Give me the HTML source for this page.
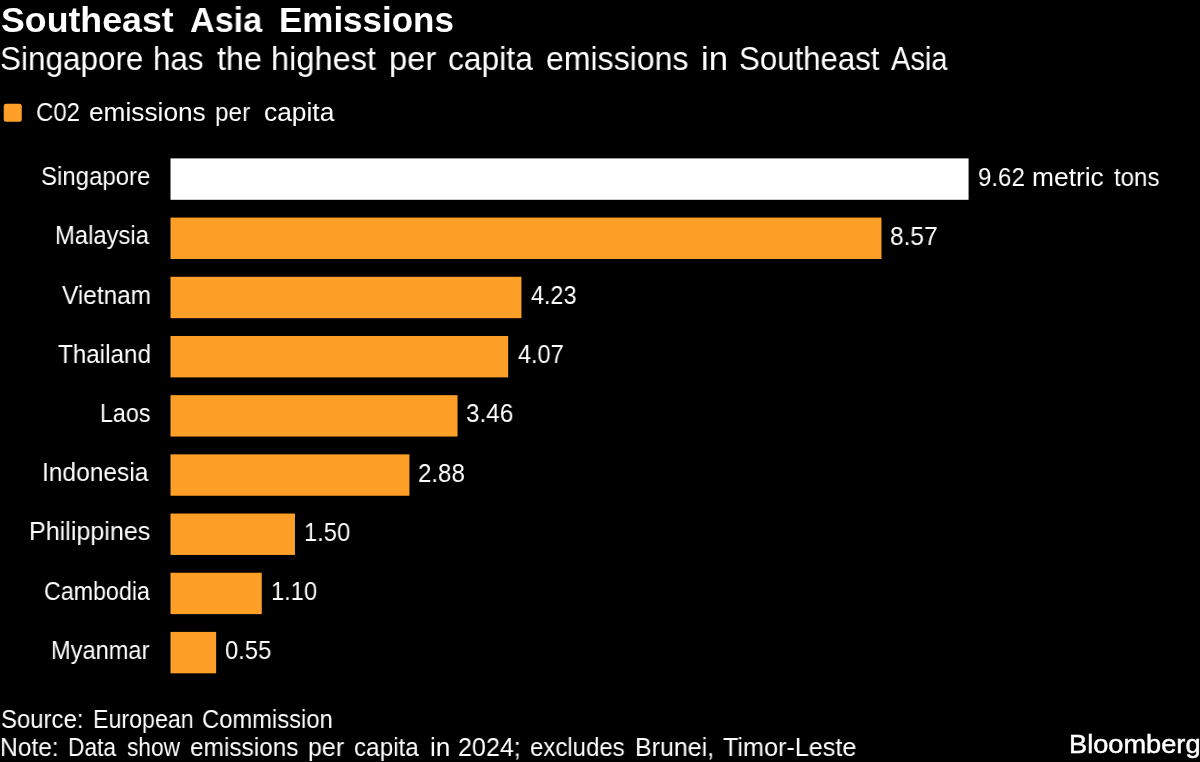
<!DOCTYPE html>
<html><head><meta charset="utf-8">
<style>
html,body{margin:0;padding:0;background:#000;}
body{width:1200px;height:762px;position:relative;overflow:hidden;font-family:"Liberation Sans",sans-serif;color:#fff;}
.t{position:absolute;white-space:nowrap;line-height:1;transform-origin:0 0;will-change:transform;}
.bar{position:absolute;}
</style></head><body>
<svg width="1200" height="762" style="position:absolute;left:0;top:0">
<rect x="170.5" y="158.40" width="798.08" height="41.4" fill="#ffffff"/>
<rect x="170.5" y="217.59" width="710.97" height="41.4" fill="#fea028"/>
<rect x="170.5" y="276.78" width="350.92" height="41.4" fill="#fea028"/>
<rect x="170.5" y="335.97" width="337.65" height="41.4" fill="#fea028"/>
<rect x="170.5" y="395.16" width="287.04" height="41.4" fill="#fea028"/>
<rect x="170.5" y="454.35" width="238.92" height="41.4" fill="#fea028"/>
<rect x="170.5" y="513.54" width="124.44" height="41.4" fill="#fea028"/>
<rect x="170.5" y="572.73" width="91.26" height="41.4" fill="#fea028"/>
<rect x="170.5" y="631.92" width="45.63" height="41.4" fill="#fea028"/>
<rect x="3.75" y="103.75" width="18" height="18" rx="2.5" fill="#fea028"/>
</svg>
<div class="t" style="left:1.06px;top:2.79px;font-size:34.5px;font-weight:bold;transform:scaleX(1.0355);">Southeast</div>
<div class="t" style="left:189.51px;top:2.79px;font-size:34.5px;font-weight:bold;transform:scaleX(0.9896);">Asia</div>
<div class="t" style="left:279.22px;top:2.79px;font-size:34.5px;font-weight:bold;transform:scaleX(1.0133);">Emissions</div>
<div class="t" style="left:-0.20px;top:41.97px;font-size:33.7px;transform:scaleX(0.9335);">Singapore</div>
<div class="t" style="left:153.44px;top:41.97px;font-size:33.7px;transform:scaleX(0.9294);">has</div>
<div class="t" style="left:216.70px;top:41.97px;font-size:33.7px;transform:scaleX(0.9622);">the</div>
<div class="t" style="left:271.37px;top:41.97px;font-size:33.7px;transform:scaleX(0.9664);">highest</div>
<div class="t" style="left:388.76px;top:41.97px;font-size:33.7px;transform:scaleX(0.9696);">per</div>
<div class="t" style="left:447.76px;top:41.97px;font-size:33.7px;transform:scaleX(0.9438);">capita</div>
<div class="t" style="left:546.35px;top:41.97px;font-size:33.7px;transform:scaleX(0.9507);">emissions</div>
<div class="t" style="left:701.24px;top:41.97px;font-size:33.7px;transform:scaleX(1.0318);">in</div>
<div class="t" style="left:738.55px;top:41.97px;font-size:33.7px;transform:scaleX(0.9260);">Southeast</div>
<div class="t" style="left:891.25px;top:41.97px;font-size:33.7px;transform:scaleX(0.8629);">Asia</div>
<div class="t" style="left:35.98px;top:99.42px;font-size:26.2px;transform:scaleX(0.9152);">C02</div>
<div class="t" style="left:89.00px;top:99.42px;font-size:26.2px;transform:scaleX(1.0026);">emissions</div>
<div class="t" style="left:215.44px;top:99.42px;font-size:26.2px;transform:scaleX(0.9278);">per</div>
<div class="t" style="left:264.29px;top:99.42px;font-size:26.2px;transform:scaleX(1.0058);">capita</div>
<div class="t" style="left:0.59px;top:705.82px;font-size:26.2px;transform:scaleX(0.9138);">Source:</div>
<div class="t" style="left:92.73px;top:705.82px;font-size:26.2px;transform:scaleX(0.8864);">European</div>
<div class="t" style="left:202.39px;top:705.82px;font-size:26.2px;transform:scaleX(0.9077);">Commission</div>
<div class="t" style="left:-0.28px;top:734.12px;font-size:26.2px;transform:scaleX(0.9379);">Note:</div>
<div class="t" style="left:68.26px;top:734.12px;font-size:26.2px;transform:scaleX(0.8679);">Data</div>
<div class="t" style="left:127.13px;top:734.12px;font-size:26.2px;transform:scaleX(0.8667);">show</div>
<div class="t" style="left:190.37px;top:734.12px;font-size:26.2px;transform:scaleX(0.9322);">emissions</div>
<div class="t" style="left:307.79px;top:734.12px;font-size:26.2px;transform:scaleX(0.9528);">per</div>
<div class="t" style="left:353.77px;top:734.12px;font-size:26.2px;transform:scaleX(0.9275);">capita</div>
<div class="t" style="left:429.70px;top:734.12px;font-size:26.2px;transform:scaleX(1.0000);">in</div>
<div class="t" style="left:458.34px;top:734.12px;font-size:26.2px;transform:scaleX(0.9581);">2024;</div>
<div class="t" style="left:530.38px;top:734.12px;font-size:26.2px;transform:scaleX(0.9157);">excludes</div>
<div class="t" style="left:634.79px;top:734.12px;font-size:26.2px;transform:scaleX(0.9532);">Brunei,</div>
<div class="t" style="left:722.70px;top:734.12px;font-size:26.2px;transform:scaleX(0.9609);">Timor-Leste</div>
<div class="t" style="left:1068.82px;top:732.33px;font-size:25px;transform:scaleX(1.0880);-webkit-text-stroke:0.45px #fff;">Bloomberg</div>
<div class="t" style="left:41.33px;top:163.22px;font-size:26.2px;transform:scaleX(0.9167);">Singapore</div>
<div class="t" style="left:55.38px;top:222.41px;font-size:26.2px;transform:scaleX(0.9089);">Malaysia</div>
<div class="t" style="left:62.00px;top:281.60px;font-size:26.2px;transform:scaleX(0.9309);">Vietnam</div>
<div class="t" style="left:57.90px;top:340.79px;font-size:26.2px;transform:scaleX(0.9253);">Thailand</div>
<div class="t" style="left:100.13px;top:399.98px;font-size:26.2px;transform:scaleX(0.8870);">Laos</div>
<div class="t" style="left:42.23px;top:459.17px;font-size:26.2px;transform:scaleX(0.9366);">Indonesia</div>
<div class="t" style="left:28.68px;top:518.36px;font-size:26.2px;transform:scaleX(0.9581);">Philippines</div>
<div class="t" style="left:43.91px;top:577.55px;font-size:26.2px;transform:scaleX(0.8873);">Cambodia</div>
<div class="t" style="left:51.20px;top:636.74px;font-size:26.2px;transform:scaleX(0.9019);">Myanmar</div>
<div class="t" style="left:977.58px;top:163.62px;font-size:26.2px;transform:scaleX(0.9184);">9.62</div>
<div class="t" style="left:889.97px;top:222.81px;font-size:26.2px;transform:scaleX(0.9347);">8.57</div>
<div class="t" style="left:531.00px;top:282.00px;font-size:26.2px;transform:scaleX(0.8920);">4.23</div>
<div class="t" style="left:517.80px;top:341.19px;font-size:26.2px;transform:scaleX(0.8960);">4.07</div>
<div class="t" style="left:465.97px;top:400.38px;font-size:26.2px;transform:scaleX(0.9265);">3.46</div>
<div class="t" style="left:418.38px;top:459.57px;font-size:26.2px;transform:scaleX(0.9184);">2.88</div>
<div class="t" style="left:303.69px;top:518.76px;font-size:26.2px;transform:scaleX(0.9062);">1.50</div>
<div class="t" style="left:270.79px;top:577.95px;font-size:26.2px;transform:scaleX(0.9042);">1.10</div>
<div class="t" style="left:225.49px;top:637.14px;font-size:26.2px;transform:scaleX(0.9082);">0.55</div>
<div class="t" style="left:1032.49px;top:163.62px;font-size:26.2px;transform:scaleX(1.0072);">metric</div>
<div class="t" style="left:1114.00px;top:163.62px;font-size:26.2px;transform:scaleX(0.9184);">tons</div>
</body></html>
